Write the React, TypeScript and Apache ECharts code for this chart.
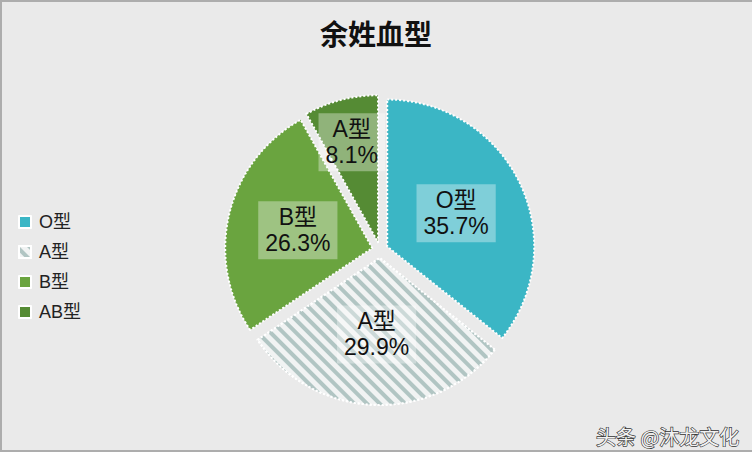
import React, { useEffect, useRef } from "react";
import * as echarts from "echarts";

const categories = ["O型", "A型", "B型", "AB型"];
const labelNames = ["O型", "A型", "B型", "A型"];
const values = [35.7, 29.9, 26.3, 8.1];
const colors = ["#3bb6c5", "#f1f3f3", "#6aa43f", "#558b34"];
const titleText = "余姓血型";
const watermark = "头条 @沐龙文化";

export default function App() {
  const ref = useRef<HTMLDivElement>(null);
  useEffect(() => {
    document.body.style.margin = "0";
    const chart = echarts.init(ref.current!, null, { renderer: "svg" });
    const font = "'Liberation Sans', 'Noto Sans CJK SC', sans-serif";
    const data = categories.map((name, i) => {
      const item: any = {
        name,
        value: values[i],
        selected: true,
        itemStyle: { color: colors[i] },
      };
      if (i === 1) {
        item.itemStyle.decal = {
          symbol: "rect",
          symbolSize: 1,
          color: "#b1c5c3",
          dashArrayX: [1, 0],
          dashArrayY: [4, 5],
          rotation: Math.PI / 4,
        };
      }
      return item;
    });
    chart.setOption({
      animation: false,
      backgroundColor: "#ffffff",
      title: {
        text: titleText,
        left: "center",
        top: 14,
        textStyle: {
          fontSize: 28,
          fontWeight: "bold",
          color: "#111",
          fontFamily: "'Noto Sans CJK SC', sans-serif",
        },
      },
      legend: {
        orient: "vertical",
        left: 13,
        top: 208,
        itemWidth: 12,
        itemHeight: 12,
        itemGap: 12,
        icon: "rect",
        textStyle: { fontSize: 18, color: "#222", fontFamily: font, padding: [0, 0, 0, 3] },
        data: categories,
        selectedMode: false,
      },
      graphic: [
        {
          type: "rect",
          z: -10,
          silent: true,
          shape: { x: 1, y: 1, width: 752, height: 450 },
          style: { fill: "#eaeaea", stroke: "#adadad", lineWidth: 2 },
        },
        {
          type: "text",
          right: 12,
          top: 426,
          z: 10,
          style: {
            text: watermark,
            fontSize: 20,
            fontFamily: "'Noto Sans CJK SC', sans-serif",
            fill: "#f2f2f2",
            stroke: "#333",
            lineWidth: 1.3,
          },
        },
      ],
      series: [
        {
          type: "pie",
          center: [380, 250],
          radius: 147,
          startAngle: 90,
          clockwise: true,
          selectedMode: "multiple",
          selectedOffset: 8,
          avoidLabelOverlap: false,
          emphasis: { disabled: true },
          itemStyle: { borderColor: "#ffffff", borderWidth: 2, borderType: "dotted" },
          select: { itemStyle: { borderColor: "#ffffff", borderWidth: 2, borderType: "dotted" } },
          label: {
            show: true,
            position: "inside",
            formatter: (p: any) => `${labelNames[p.dataIndex]}\n${p.value}%`,
            fontSize: 23,
            lineHeight: 26,
            color: "#111",
            fontFamily: font,
            backgroundColor: "rgba(255,255,255,0.35)",
            padding: [3, 7],
          },
          labelLine: { show: false },
          labelLayout: (p: any) => (p.dataIndex === 3 ? { dx: -7, dy: -26 } : {}),
          data,
        },
      ],
    });
    return () => chart.dispose();
  }, []);
  return (
    <div
      ref={ref}
      style={{ position: "absolute", left: 0, top: 0, width: 752, height: 465 }}
    />
  );
}
